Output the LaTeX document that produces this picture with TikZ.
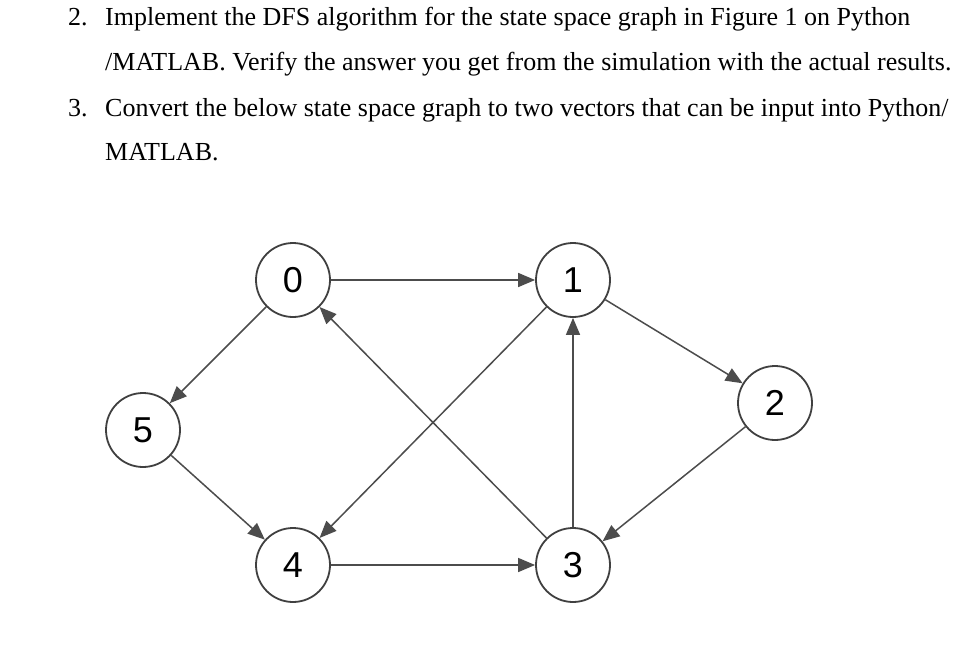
\documentclass[tikz,border=0pt]{standalone}
\usepackage{fontspec}
\setmainfont{Liberation Serif}
\newfontfamily\arialf{Liberation Sans}
\usetikzlibrary{arrows.meta}
\begin{document}
\begin{tikzpicture}[x=1pt,y=-1pt,
  txt/.style={anchor=base west,inner sep=0,font=\fontsize{26}{28}\selectfont},
  st/.style={circle,draw=black!75,line width=1.8pt,minimum size=74pt,inner sep=0,font=\arialf\fontsize{36}{38}\selectfont,fill=white},
  ed/.style={draw=black!70,line width=1.5pt,-{Triangle[length=17pt,width=14pt]}}]
\useasboundingbox[fill=white] (0,0) rectangle (962,645);
\node[txt] (n2) at (68,25) {2.};
\node[txt] (l1) at (105,25) {Implement the DFS algorithm for the state space graph in Figure 1 on Python};
\node[txt] (l2) at (105,70) {/MATLAB. Verify the answer you get from the simulation with the actual results.};
\node[txt] (n3) at (68,116) {3.};
\node[txt] (l3) at (105,116) {Convert the below state space graph to two vectors that can be input into Python/};
\node[txt] (l4) at (105,160) {MATLAB.};
\node[st] (s0) at (293,280) {0};
\node[st] (s1) at (573,280) {1};
\node[st] (s2) at (775,403) {2};
\node[st] (s5) at (143,430) {5};
\node[st] (s4) at (293,565) {4};
\node[st] (s3) at (573,565) {3};
\draw[ed] (s0) -- (s1);
\draw[ed] (s0) -- (s5);
\draw[ed] (s1) -- (s2);
\draw[ed] (s1) -- (s4);
\draw[ed] (s3) -- (s0);
\draw[ed] (s3) -- (s1);
\draw[ed] (s2) -- (s3);
\draw[ed] (s5) -- (s4);
\draw[ed] (s4) -- (s3);
\end{tikzpicture}
\end{document}
